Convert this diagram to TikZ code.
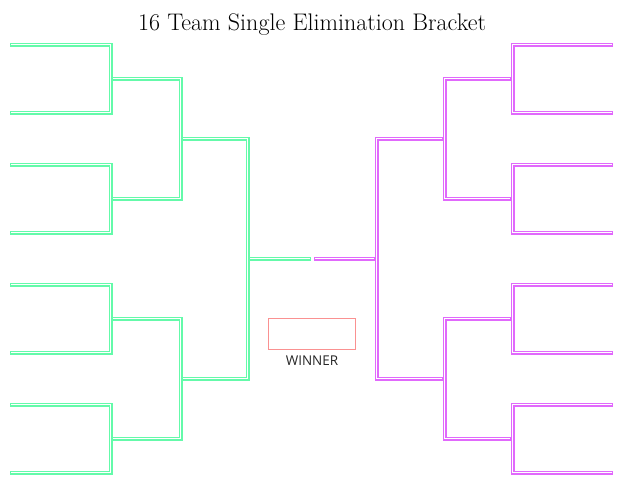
\documentclass[tikz,border=0pt]{standalone}
\usepackage{fontspec}
\newfontfamily\winnerfont{Open Sans}
\definecolor{bgreen}{RGB}{100,250,170}
\definecolor{bpurple}{RGB}{225,105,252}
\definecolor{wred}{RGB}{250,145,145}
\tikzset{
  gouter/.style={draw=bgreen, line width=4pt},
  pouter/.style={draw=bpurple, line width=4pt},
  inner/.style={draw=white, line width=1.5pt, shorten <=1.3pt, shorten >=1.3pt},
}
\begin{document}
\begin{tikzpicture}[x=1pt,y=-1pt]
\useasboundingbox (0,0) rectangle (624,482);
% left side
\coordinate (L1) at (10,44.5);  \coordinate (L2) at (10,112.5);
\coordinate (L3) at (10,164.5); \coordinate (L4) at (10,232.5);
\coordinate (L5) at (10,284.5); \coordinate (L6) at (10,352.5);
\coordinate (L7) at (10,404.5); \coordinate (L8) at (10,472.5);
\coordinate (LA) at (110.5,78.5);  \coordinate (LB) at (110.5,198.5);
\coordinate (LC) at (110.5,318.5); \coordinate (LD) at (110.5,438.5);
\coordinate (LE) at (180.5,138.5); \coordinate (LF) at (180.5,378.5);
\coordinate (LG) at (247.5,258.5);
\coordinate (F1) at (311,258.5);
% right side
\coordinate (R1) at (613,44.5);  \coordinate (R2) at (613,112.5);
\coordinate (R3) at (613,164.5); \coordinate (R4) at (613,232.5);
\coordinate (R5) at (613,284.5); \coordinate (R6) at (613,352.5);
\coordinate (R7) at (613,404.5); \coordinate (R8) at (613,472.5);
\coordinate (RA) at (512.5,78.5);  \coordinate (RB) at (512.5,198.5);
\coordinate (RC) at (512.5,318.5); \coordinate (RD) at (512.5,438.5);
\coordinate (RE) at (444.5,138.5); \coordinate (RF) at (444.5,378.5);
\coordinate (RG) at (376.5,258.5);
\coordinate (F2) at (314,258.5);
% outer strokes, left
\draw[gouter] (L1) -| (LA) |- (L2);
\draw[gouter] (L3) -| (LB) |- (L4);
\draw[gouter] (L5) -| (LC) |- (L6);
\draw[gouter] (L7) -| (LD) |- (L8);
\draw[gouter] (LA) -| (LE) |- (LB);
\draw[gouter] (LC) -| (LF) |- (LD);
\draw[gouter] (LE) -| (LG) |- (LF);
\draw[gouter] (LG) -- (F1);
% outer strokes, right
\draw[pouter] (R1) -| (RA) |- (R2);
\draw[pouter] (R3) -| (RB) |- (R4);
\draw[pouter] (R5) -| (RC) |- (R6);
\draw[pouter] (R7) -| (RD) |- (R8);
\draw[pouter] (RA) -| (RE) |- (RB);
\draw[pouter] (RC) -| (RF) |- (RD);
\draw[pouter] (RE) -| (RG) |- (RF);
\draw[pouter] (RG) -- (F2);
% inner white strokes
\draw[inner] (L1) -| (LA) |- (L2);
\draw[inner] (L3) -| (LB) |- (L4);
\draw[inner] (L5) -| (LC) |- (L6);
\draw[inner] (L7) -| (LD) |- (L8);
\draw[inner] ([xshift=1.2pt]LA) -| (LE) |- ([xshift=1.2pt]LB);
\draw[inner] ([xshift=1.2pt]LC) -| (LF) |- ([xshift=1.2pt]LD);
\draw[inner] ([xshift=1.2pt]LE) -| (LG) |- ([xshift=1.2pt]LF);
\draw[inner] ([xshift=1.2pt]LG) -- (F1);
\draw[inner] (R1) -| (RA) |- (R2);
\draw[inner] (R3) -| (RB) |- (R4);
\draw[inner] (R5) -| (RC) |- (R6);
\draw[inner] (R7) -| (RD) |- (R8);
\draw[inner] ([xshift=-1.2pt]RA) -| (RE) |- ([xshift=-1.2pt]RB);
\draw[inner] ([xshift=-1.2pt]RC) -| (RF) |- ([xshift=-1.2pt]RD);
\draw[inner] ([xshift=-1.2pt]RE) -| (RG) |- ([xshift=-1.2pt]RF);
\draw[inner] ([xshift=-1.2pt]RG) -- (F2);
% winner box
\node[draw=wred, line width=1.6pt, minimum width=87pt, minimum height=31pt, inner sep=0pt] (winbox) at (312,334) {};
\node[font=\winnerfont\fontsize{13.5}{14}\selectfont, text=black!85, inner sep=0pt] (winlabel) at (312,361) {WINNER};
% title
\node[font=\fontsize{24}{28}\selectfont\addfontfeature{Numbers=OldStyle}, inner sep=0pt] (title) at (312,25) {16 Team Single Elimination Bracket};
\end{tikzpicture}
\end{document}
